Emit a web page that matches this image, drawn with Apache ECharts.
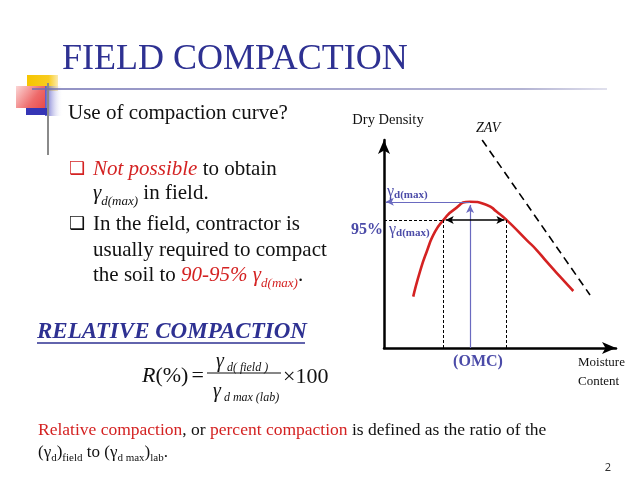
<!DOCTYPE html>
<html><head><meta charset="utf-8">
<script src="https://cdn.jsdelivr.net/npm/echarts@6/dist/echarts.min.js"></script>
<style>html,body{margin:0;padding:0;background:#fff}#c{width:638px;height:479px}</style>
</head><body><div id="c"></div>
<script>
// ---- data ----
const moisture   = [12.6, 15.5, 18.4, 22.0, 25.6, 29.9, 37.1, 44.3, 48.6, 52.9, 61.5, 65.8, 70.1, 75.9, 81.6];
const dryDensity = [24.7, 36.7, 46.3, 55.9, 61.5, 66.3, 70.3, 68.8, 65.5, 61.5, 51.9, 47.1, 41.5, 34.3, 27.4];
const zavMoisture = [42.3, 88.8];
const zavDensity  = [100, 25.5];
const omc = 37.1;
const gammaMax = 70.3;
const gamma95 = 61.5;
const w95Left = 25.6;
const w95Right = 52.9;

const serif = "'Liberation Serif','Times New Roman',serif";
const BLUE = '#2E3192';
const LBLUE = '#4B4BA8';
const RED = '#D42222';

const curveData = moisture.map((x, i) => [x, dryDensity[i]]);
const zavData = zavMoisture.map((x, i) => [x, zavDensity[i]]);

function txt(x, y, text, rich, extra) {
  return {
    type: 'text', x: x, y: y, z: 10,
    style: Object.assign({
      text: text, rich: rich || {}, fontFamily: serif, fontSize: 21,
      fill: '#111', verticalAlign: 'middle', align: 'left'
    }, extra || {})
  };
}

const subI = (fs, col, extra) => Object.assign({fontFamily: serif, fontStyle: 'italic', fontSize: fs, lineHeight: fs, verticalAlign: 'bottom', fill: col, color: col}, extra || {});
const norm = (fs, lh, col, extra) => Object.assign({fontFamily: serif, fontSize: fs, lineHeight: lh, fill: col, color: col}, extra || {});

const chart = echarts.init(document.getElementById('c'), null, {renderer: 'canvas'});
chart.setOption({
  animation: false,
  backgroundColor: '#fff',
  grid: {left: 384, top: 140, width: 232, height: 208, containLabel: false},
  xAxis: {
    type: 'value', min: 0, max: 100,
    name: 'Moisture\nContent', nameLocation: 'end', nameGap: -38,
    nameTextStyle: {fontFamily: serif, fontSize: 13, color: '#111', lineHeight: 19, verticalAlign: 'top', align: 'left', padding: [5, 0, 0, 0]},
    axisLine: {lineStyle: {color: '#000', width: 2.5}, symbol: ['none', 'arrow'], symbolSize: [9, 14]},
    axisTick: {show: false}, axisLabel: {show: false}, splitLine: {show: false}
  },
  yAxis: {
    type: 'value', min: 0, max: 100,
    name: 'Dry Density', nameLocation: 'end', nameGap: 12,
    nameTextStyle: {fontFamily: serif, fontSize: 14.5, color: '#111', align: 'center', padding: [0, 0, 0, 8]},
    axisLine: {lineStyle: {color: '#000', width: 2.5}, symbol: ['none', 'arrow'], symbolSize: [9, 14]},
    axisTick: {show: false}, axisLabel: {show: false}, splitLine: {show: false}
  },
  series: [
    {
      type: 'line', name: 'guides', data: [], silent: true,
      markLine: {
        silent: true, symbol: ['none', 'none'], label: {show: false},
        lineStyle: {color: '#000', width: 1, type: [3, 2]},
        data: [
          [{coord: [0, gamma95]}, {coord: [w95Left, gamma95]}],
          [{coord: [w95Left, 0]}, {coord: [w95Left, gamma95]}],
          [{coord: [w95Right, 0]}, {coord: [w95Right, gamma95]}]
        ]
      }
    },
    {
      type: 'line', name: 'blueArrows', data: [], silent: true,
      markLine: {
        silent: true, symbol: ['none', 'arrow'], symbolSize: [6, 8], label: {show: false},
        lineStyle: {color: '#6A6AC0', width: 1.2, type: 'solid'},
        data: [
          [{coord: [omc, gammaMax]}, {coord: [0.8, gammaMax]}],
          [{coord: [omc, 0]}, {coord: [omc, gammaMax - 1.5]}]
        ]
      }
    },
    {
      type: 'line', name: 'range', data: [], silent: true,
      markLine: {
        silent: true, symbol: ['arrow', 'arrow'], symbolSize: [6, 8], label: {show: false},
        lineStyle: {color: '#000', width: 1.5, type: 'solid'},
        data: [[{coord: [w95Left + 1, gamma95]}, {coord: [w95Right - 1, gamma95]}]]
      }
    },
    {
      type: 'line', name: 'ZAV', data: zavData, showSymbol: false, symbol: 'none',
      lineStyle: {color: '#000', width: 1.6, type: [8, 5]}, z: 3
    },
    {
      type: 'line', name: 'Compaction curve', data: curveData, smooth: 0.6, showSymbol: false, symbol: 'none',
      lineStyle: {color: RED, width: 2.6}, z: 4
    }
  ],
  graphic: [
    // slide decoration
    {type: 'rect', shape: {x: 27, y: 75, width: 31, height: 16}, z: 1,
      style: {fill: new echarts.graphic.LinearGradient(0, 0, 1, 0, [{offset: 0, color: '#F6C500'}, {offset: 0.7, color: '#F8CC20'}, {offset: 1, color: '#FCEBB0'}])}},
    {type: 'rect', shape: {x: 16, y: 86, width: 30, height: 22}, z: 2,
      style: {fill: new echarts.graphic.LinearGradient(0, 0, 1, 1, [{offset: 0, color: '#FBD6D6'}, {offset: 0.6, color: '#EE6A6A'}, {offset: 1, color: '#E84848'}])}},
    {type: 'rect', shape: {x: 45, y: 86, width: 18, height: 30}, z: 2,
      style: {fill: new echarts.graphic.LinearGradient(0, 0, 1, 0, [{offset: 0, color: '#5A5AC8'}, {offset: 1, color: 'rgba(255,255,255,0)'}])}},
    {type: 'rect', shape: {x: 26, y: 108, width: 21, height: 7}, z: 2, style: {fill: '#3535B5'}},
    {type: 'line', shape: {x1: 48, y1: 83, x2: 48, y2: 155}, z: 3, style: {stroke: '#8A8A8A', lineWidth: 2}},
    {type: 'line', shape: {x1: 32, y1: 89, x2: 607, y2: 89}, z: 3,
      style: {lineWidth: 1.5, stroke: new echarts.graphic.LinearGradient(0, 0, 1, 0, [{offset: 0, color: '#6C6CB0'}, {offset: 0.85, color: '#9A9AC4'}, {offset: 1, color: '#D8D8E8'}])}},
    // title
    txt(62, 60, 'FIELD COMPACTION', null, {fontSize: 36, fill: BLUE}),
    txt(68, 113, 'Use of compaction curve?', null, {fontSize: 21}),
    // bullets
    txt(69, 169, '❑', null, {fontFamily: "'DejaVu Sans',sans-serif", fontSize: 18, fill: RED}),
    txt(93, 169, '{r|Not possible}{n| to obtain}', {
      r: norm(21, 26, RED, {fontStyle: 'italic'}), n: norm(21, 26, '#111')}),
    txt(93, 193, '{g|γ}{s|d(max)}{n| in field.}', {
      g: norm(21, 30, '#111', {fontStyle: 'italic'}), s: subI(13, '#111'), n: norm(21, 30, '#111')}),
    txt(69, 224, '❑', null, {fontFamily: "'DejaVu Sans',sans-serif", fontSize: 18, fill: '#111'}),
    txt(93, 224, 'In the field, contractor is', null, {fontSize: 21}),
    txt(93, 250, 'usually required to compact', null, {fontSize: 21}),
    txt(93, 275, '{n|the soil to }{r|90-95% }{g|γ}{s|d(max)}{n|.}', {
      n: norm(21, 30, '#111'), r: norm(21, 30, RED, {fontStyle: 'italic'}),
      g: norm(21, 30, RED, {fontStyle: 'italic'}), s: subI(13, RED)}),
    // relative compaction heading
    txt(37, 332, 'RELATIVE COMPACTION', null, {fontSize: 23, fontStyle: 'italic', fontWeight: 'bold', fill: BLUE}),
    {type: 'line', shape: {x1: 37, y1: 343, x2: 305, y2: 343}, z: 10, style: {stroke: BLUE, lineWidth: 1.5}},
    // formula
    txt(142, 376, '{i|R}{n|(%)}{e|=}', {i: norm(22, 28, '#111', {fontStyle: 'italic'}), n: norm(22, 28, '#111'), e: norm(22, 28, '#111', {padding: [0, 0, 0, 3]})}),
    txt(216, 362, '{g|γ}{s| d( field )}', {g: norm(20, 24, '#111', {fontStyle: 'italic'}), s: subI(12, '#111')}),
    {type: 'line', shape: {x1: 207, y1: 373, x2: 281, y2: 373}, z: 10, style: {stroke: '#111', lineWidth: 1.2}},
    txt(213, 392, '{g|γ}{s| d max (lab)}', {g: norm(20, 24, '#111', {fontStyle: 'italic'}), s: subI(12, '#111')}),
    txt(283, 377, '×100', null, {fontSize: 22}),
    // chart annotations
    txt(387, 192, '{g|γ}{s|d(max)}', {g: norm(16, 18, LBLUE), s: subI(11, LBLUE, {fontStyle: 'normal', fontWeight: 'bold'})}),
    txt(351, 230, '95%', null, {fontSize: 16, fontWeight: 'bold', fill: LBLUE}),
    txt(389, 230, '{g|γ}{s|d(max)}', {g: norm(16, 18, LBLUE), s: subI(11, LBLUE, {fontStyle: 'normal', fontWeight: 'bold'})}),
    txt(478, 362, '(OMC)', null, {fontSize: 16, fontWeight: 'bold', fill: LBLUE, align: 'center'}),
    txt(476, 128, 'ZAV', null, {fontSize: 14, fontStyle: 'italic'}),
    // bottom text
    txt(38, 430, '{r|Relative compaction}{n|, or }{r|percent compaction}{n| is defined as the ratio of the}', {
      r: norm(17.5, 20, RED), n: norm(17.5, 20, '#111')}),
    txt(38, 453, '{n|(γ}{s|d}{n|)}{s|field}{n| to (γ}{s|d max}{n|)}{s|lab}{n|.}', {
      n: norm(17, 22, '#111'), s: Object.assign(norm(11, 11, '#111'), {verticalAlign: 'bottom'})}),
    txt(608, 468, '2', null, {fontFamily: "'Noto Sans',sans-serif", fontSize: 11, fill: '#333', align: 'center'})
  ]
});
</script>
</body></html>
